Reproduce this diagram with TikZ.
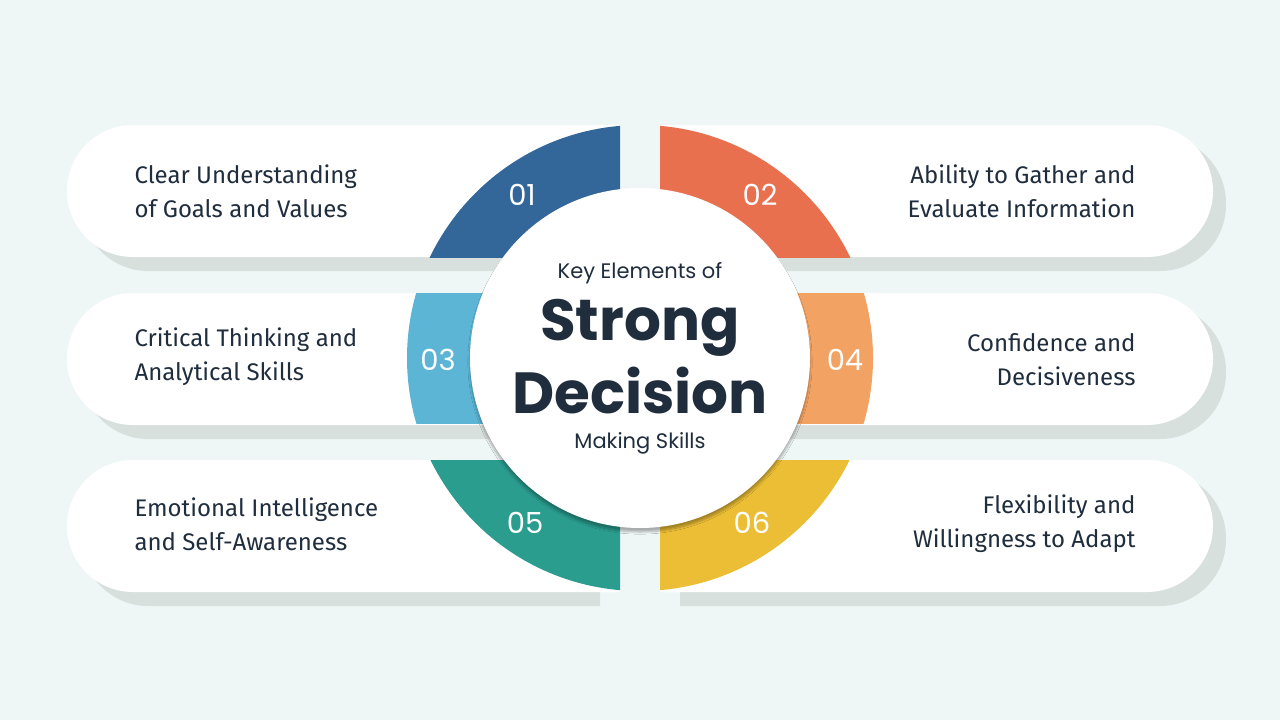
\documentclass[tikz,border=0pt]{standalone}
\usepackage{fontspec}
\setmainfont{Fira Sans}
\newfontfamily\pop{Poppins}
\definecolor{bg}{HTML}{EFF7F6}
\definecolor{shd}{HTML}{D8E0DE}
\definecolor{txt}{HTML}{1F2D3D}
\definecolor{cA}{HTML}{336699}
\definecolor{cB}{HTML}{E8704F}
\definecolor{cC}{HTML}{5DB5D5}
\definecolor{cD}{HTML}{F2A262}
\definecolor{cE}{HTML}{2A9D8F}
\definecolor{cF}{HTML}{EBBE35}
\usetikzlibrary{shadows.blur}
\tikzset{
 lbl/.style={font=\fontsize{24}{34}\selectfont, text=txt, align=left, anchor=west},
 rbl/.style={font=\fontsize{24}{34}\selectfont, text=txt, align=right, anchor=east},
 num/.style={font=\pop\fontsize{29}{29}\selectfont, text=white},
}
\begin{document}
\begin{tikzpicture}[x=1pt,y=-1pt]
\fill[bg] (0,0) rectangle (1280,720);
\useasboundingbox (0,0) rectangle (1280,720);
% pills
\foreach \y in {125,293,460}{
 \begin{scope}\clip (0,0) rectangle (600,720);
 \fill[shd, rounded corners=66] (82,\y+12) rectangle (760,\y+146);
 \end{scope}
 \begin{scope}\clip (680,0) rectangle (1280,720);
 \fill[shd, rounded corners=66] (500,\y+12) rectangle (1226,\y+146);
 \end{scope}
 \begin{scope}\clip (0,0) rectangle (620,720);
 \fill[white, rounded corners=66] (67,\y) rectangle (760,\y+132);
 \end{scope}
 \begin{scope}\clip (660,0) rectangle (1280,720);
 \fill[white, rounded corners=66] (520,\y) rectangle (1213,\y+132);
 \end{scope}
}
% ring segments
\def\seg#1#2#3#4#5{\begin{scope}\clip (#1,#3) rectangle (#2,#4); \fill[#5] (640,358) circle[radius=233];\end{scope}}
\seg{0}{620}{125}{257}{cA}
\seg{660}{1280}{125}{257}{cB}
\seg{0}{620}{293}{423}{cC}
\seg{660}{1280}{293}{423}{cD}
\seg{0}{620}{460}{591}{cE}
\seg{660}{1280}{460}{591}{cF}
% center
\node[circle, fill=white, minimum size=340pt, inner sep=0pt, blur shadow={shadow xshift=0pt, shadow yshift=-4pt, shadow blur steps=8, shadow opacity=30}] (c) at (640,358) {};
\node[num] (n1) at (522,195) {01};
\node[num] (n2) at (760,195) {02};
\node[num] (n3) at (438,360) {03};
\node[num] (n4) at (845,360) {04};
\node[num] (n5) at (525,523) {05};
\node[num] (n6) at (752,523) {06};
\node[font=\pop\fontsize{21}{21}\selectfont, text=txt] (t1) at (640,273) {Key Elements of};
\node[font=\pop\bfseries\fontsize{58}{58}\selectfont, text=txt] (t2) at (640,328) {Strong};
\node[font=\pop\bfseries\fontsize{58}{58}\selectfont, text=txt] (t3) at (640,390) {Decision};
\node[font=\pop\fontsize{21}{21}\selectfont, text=txt] (t4) at (640,443) {Making Skills};
% labels
\node[lbl] (l1) at (131,191) {Clear Understanding\\of Goals and Values};
\node[lbl] (l3) at (131,357) {Critical Thinking and\\Analytical Skills};
\node[lbl] (l5) at (131,524) {Emotional Intelligence\\and Self-Awareness};
\node[rbl] (r2) at (1139,191) {Ability to Gather and\\Evaluate Information};
\node[rbl] (r4) at (1139,360) {Confidence and\\Decisiveness};
\node[rbl] (r6) at (1139,524) {Flexibility and\\Willingness to Adapt};
\end{tikzpicture}
\end{document}
